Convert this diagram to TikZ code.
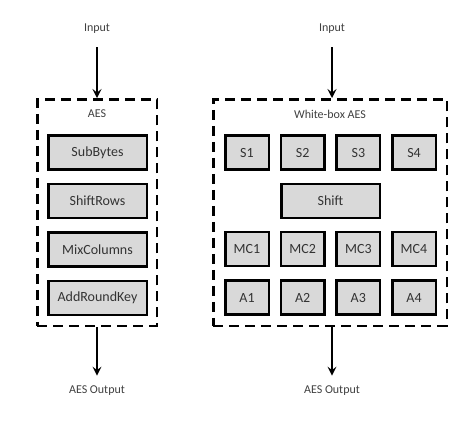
\documentclass[tikz,border=0pt]{standalone}
\usepackage{fontspec}
\setmainfont{Carlito}
\usetikzlibrary{positioning,arrows.meta}
\tikzstyle{block} = [rectangle, draw=black, line width=2.5pt, fill=gray!30, minimum width=98.5pt, minimum height=34pt, inner sep=1pt, font=\fontsize{14}{16}\selectfont, text=black!80]
\tikzstyle{wbcell} = [block, minimum width=43.5pt]
\tikzstyle{frame} = [rectangle, draw=black, line width=2.5pt, dash pattern=on 10pt off 6pt]
\tikzstyle{iolabel} = [font=\fontsize{12}{14}\selectfont, text=black!75]
\tikzstyle{arrow} = [line width=1.8pt, -{Stealth[length=9pt,width=9pt,inset=3.5pt]}]
\begin{document}
\begin{tikzpicture}[x=1pt,y=-1pt]
\useasboundingbox (0,0) rectangle (474,424);

% plain AES
\node (aes) [frame, minimum width=119.5pt, minimum height=226.5pt] at (97,212.5) {};
\node (aestitle) [iolabel] at (97,114) {AES};
\node (input1) [iolabel] at (97,29) {Input};
\node (output1) [iolabel] at (97,391) {AES Output};

\node (subbytes) [block] at (97.5,152.5) {SubBytes};
\node (shiftrows) [block, below=12pt of subbytes] {ShiftRows};
\node (mixcolumns) [block, below=12pt of shiftrows] {MixColumns};
\node (addroundkey) [block, below=12pt of mixcolumns] {AddRoundKey};

% white-box AES
\node (wbaes) [frame, minimum width=233.5pt, minimum height=226.5pt] at (330,212.5) {};
\node (wbtitle) [iolabel] at (330,114) {White-box AES};
\node (input2) [iolabel] at (332,29) {Input};
\node (output2) [iolabel] at (332,391) {AES Output};

\node (s1) [wbcell] at (247,152.5) {S1};
\node (s2) [wbcell, right=9.67pt of s1] {S2};
\node (s3) [wbcell, right=9.67pt of s2] {S3};
\node (s4) [wbcell, right=9.67pt of s3] {S4};

\node (shift) [block] at (330.5,201) {Shift};

\node (mc1) [wbcell, below=60pt of s1] {MC1};
\node (mc2) [wbcell, right=9.67pt of mc1] {MC2};
\node (mc3) [wbcell, right=9.67pt of mc2] {MC3};
\node (mc4) [wbcell, right=9.67pt of mc3] {MC4};

\node (a1) [wbcell, below=12pt of mc1] {A1};
\node (a2) [wbcell, right=9.67pt of a1] {A2};
\node (a3) [wbcell, right=9.67pt of a2] {A3};
\node (a4) [wbcell, right=9.67pt of a3] {A4};

\draw [arrow, shorten <=10pt] (input1.south) -- (input1.south |- aes.north);
\draw [arrow, shorten >=7pt] (aes.south -| output1.north) -- (output1.north);
\draw [arrow, shorten <=10pt] (input2.south) -- (input2.south |- wbaes.north);
\draw [arrow, shorten >=7pt] (wbaes.south -| output2.north) -- (output2.north);

\end{tikzpicture}
\end{document}
